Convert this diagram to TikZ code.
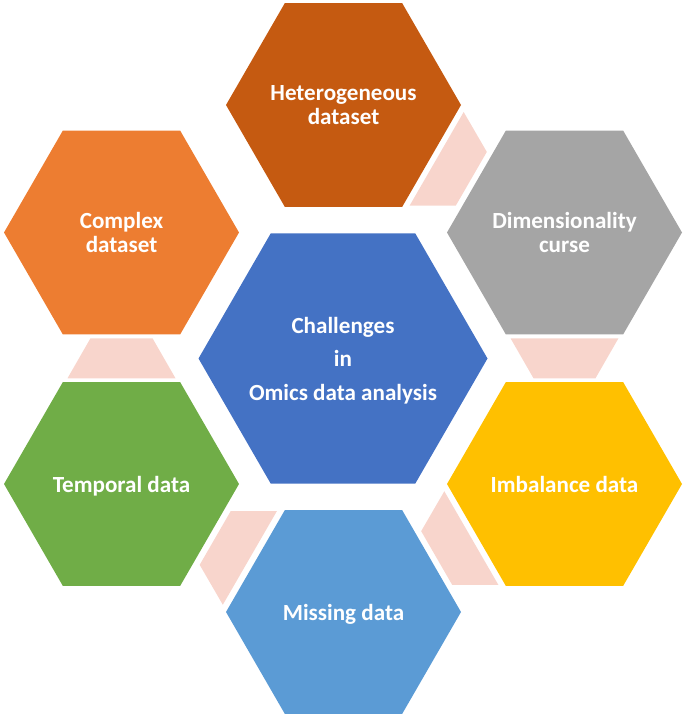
\documentclass[tikz,border=0pt]{standalone}
\usepackage{fontspec}
\setmainfont{Carlito}
\usetikzlibrary{shapes.geometric, calc}

\definecolor{hexcenter}{HTML}{4472C4}
\definecolor{hexrust}{HTML}{C55A11}
\definecolor{hexorange}{HTML}{ED7D31}
\definecolor{hexgrey}{HTML}{A5A5A5}
\definecolor{hexgreen}{HTML}{70AD47}
\definecolor{hexgold}{HTML}{FFC000}
\definecolor{hexsky}{HTML}{5B9BD5}
\definecolor{linkpink}{HTML}{F8D5CC}

\begin{document}
\begin{tikzpicture}[x=1pt, y=-1pt,
	hexbox/.style={regular polygon, regular polygon sides=6, minimum size=235pt,
		inner sep=1pt, outer sep=0pt},
	hexlabel/.style={text=white, align=center, inner sep=0pt,
		font=\fontsize{23.1}{24.5}\selectfont\bfseries}]
	\useasboundingbox (0,0) rectangle (685,718);

	% --- 中心六边形 ---
	\node[hexbox, minimum size=289pt, fill=hexcenter,
		label={[hexlabel, yshift=-2pt, font=\fontsize{23.1}{33.7}\selectfont\bfseries]center:{Challenges\\in\\Omics data analysis}}]
		(ctr) at (343,358.5) {};

	% --- 外圈六边形 ---
	\node[hexbox, fill=hexrust,   label={[hexlabel]center:{Heterogeneous\\dataset}}] (het) at (343.5,105)   {};
	\node[hexbox, fill=hexorange, label={[hexlabel]center:{Complex\\dataset}}]       (cpx) at (121.5,232.5) {};
	\node[hexbox, fill=hexgrey,   label={[hexlabel]center:{Dimensionality\\curse}}]  (dim) at (564.5,232.5) {};
	\node[hexbox, fill=hexgreen,  label={[hexlabel, yshift=-2.5pt]center:Temporal data}] (tmp) at (121.5,484) {};
	\node[hexbox, fill=hexgold,   label={[hexlabel]center:Imbalance data}]           (imb) at (564.5,484)   {};
	\node[hexbox, fill=hexsky,    label={[hexlabel, yshift=-2.5pt]center:Missing data}]  (mis) at (343.5,612) {};

	% --- 连接块 ---
	\foreach \a/\b/\r in {het/dim/-120, dim/imb/180, imb/mis/120, mis/tmp/60, tmp/cpx/0}
		\fill[linkpink, shift={($(\a)!0.5!(\b)$)}, rotate=\r]
			(-54,20) -- (54,20) -- (31,-20) -- (-31,-20) -- cycle;
\end{tikzpicture}
\end{document}
